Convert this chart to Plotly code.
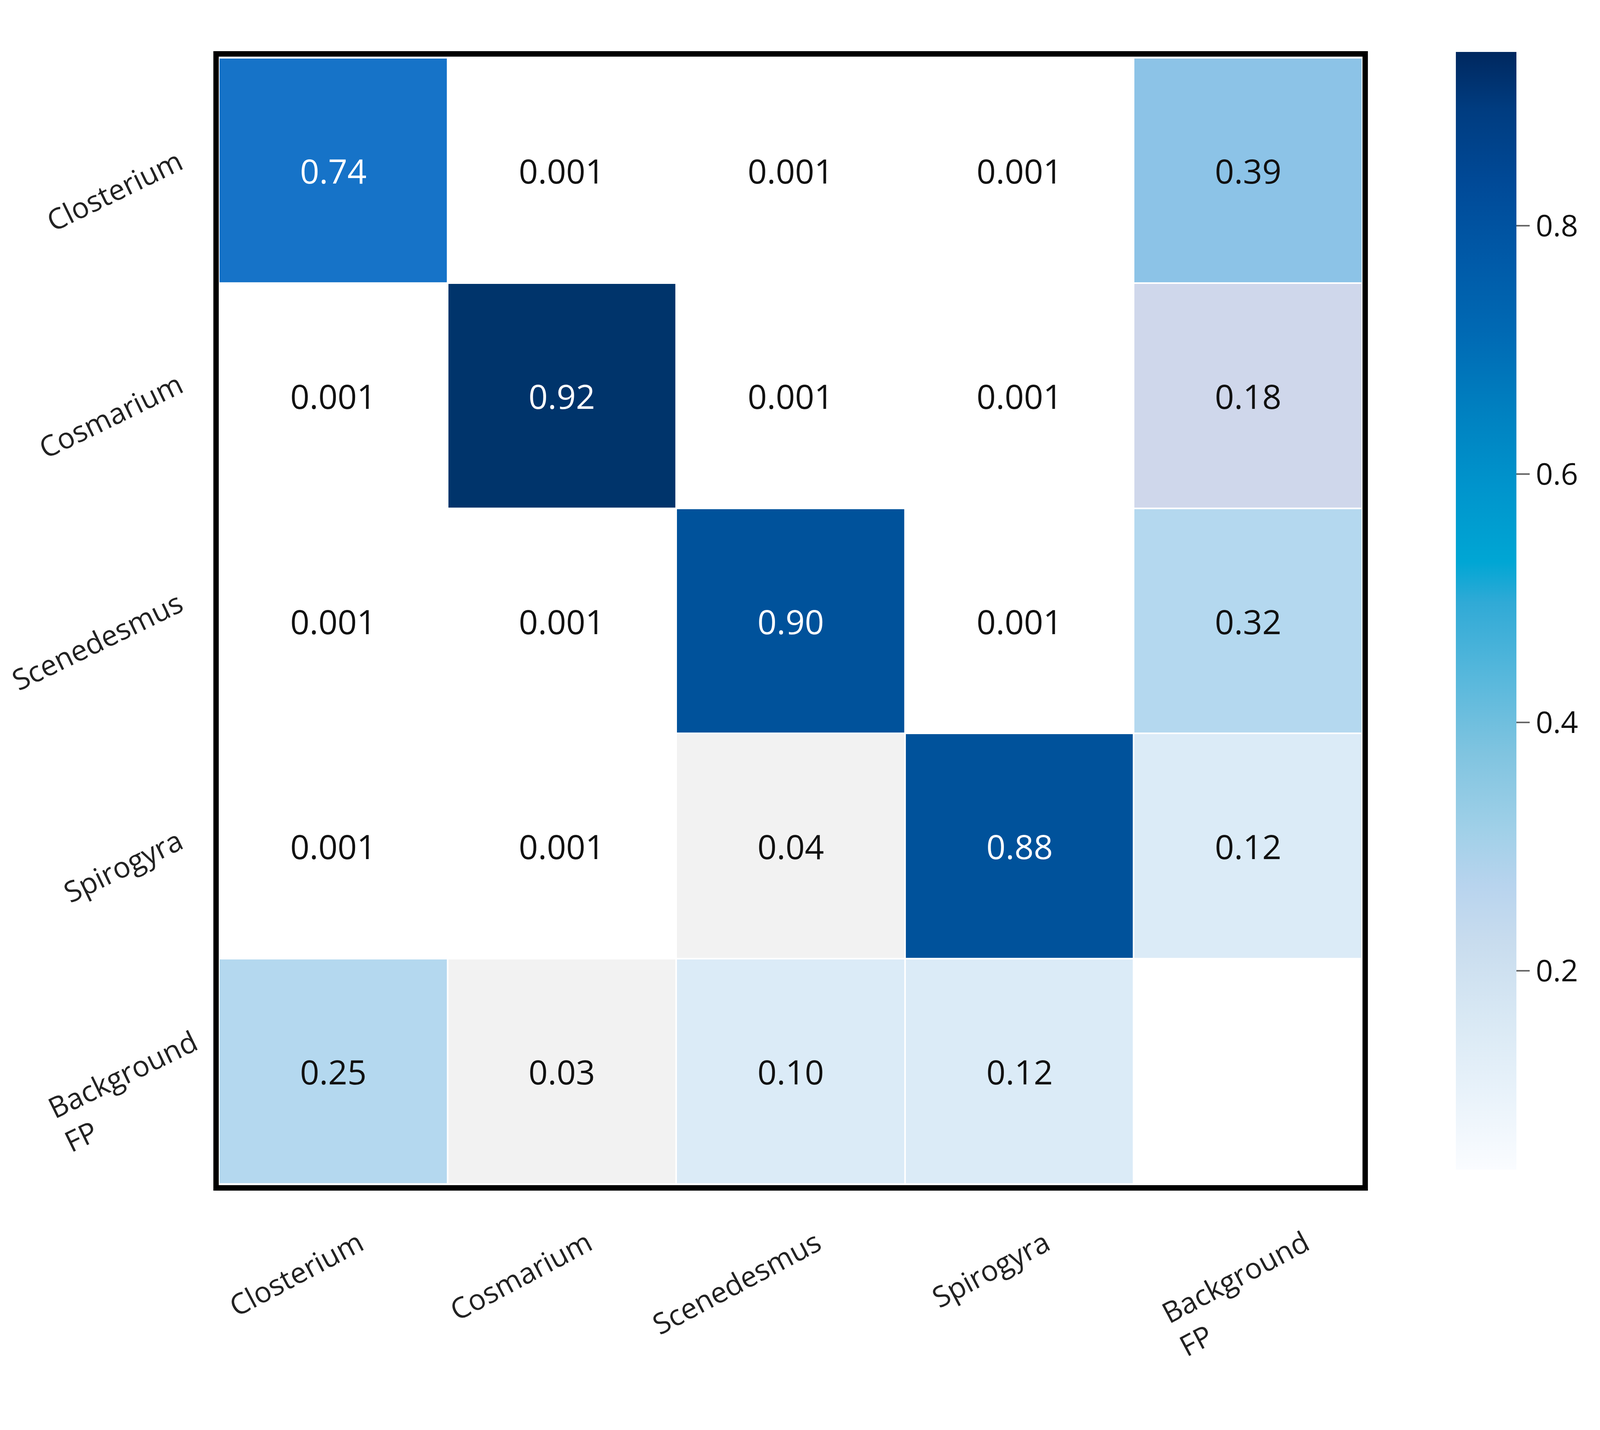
import plotly.graph_objects as go

# ---------------- data ----------------
categories = ["Closterium", "Cosmarium", "Scenedesmus", "Spirogyra", "Background FP"]
tick_labels = ["Closterium", "Cosmarium", "Scenedesmus", "Spirogyra", "Background<br>FP"]

row_closterium = [0.74, 0.001, 0.001, 0.001, 0.39]
row_cosmarium = [0.001, 0.92, 0.001, 0.001, 0.18]
row_scenedesmus = [0.001, 0.001, 0.90, 0.001, 0.32]
row_spirogyra = [0.001, 0.001, 0.04, 0.88, 0.12]
row_background = [0.25, 0.03, 0.10, 0.12, None]

colorbar_ticks = [0.2, 0.4, 0.6, 0.8]
colorbar_ticktext = ["0.2", "0.4", "0.6", "0.8"]
colorbar_min, colorbar_max = 0.04, 0.94

z = [row_closterium, row_cosmarium, row_scenedesmus, row_spirogyra, row_background]

# ---------------- geometry (designed for a 5939x3662 page) ----------------
W_REF, H_REF = 5939, 3662
ML, MR, MT, MB = 812, 881, 148, 630
PW, PH = W_REF - ML - MR, H_REF - MT - MB
FONT = "Open Sans"
LABEL_SIZE = 107

# colour map used for the cells
ZMIN, ZMAX = 0.0, 0.94
cell_scale = [
    [0.000, "#FFFFFF"],
    [0.012, "#FFFFFF"],
    [0.028, "#F2F2F2"],
    [0.048, "#F2F2F2"],
    [0.100, "#DBEBF7"],
    [0.135, "#DBEBF7"],
    [0.191, "#CFD7EB"],
    [0.255, "#B4D8EF"],
    [0.345, "#B4D8EF"],
    [0.415, "#8CC3E7"],
    [0.565, "#00A8D4"],
    [0.680, "#0090C8"],
    [0.787, "#1673C8"],
    [0.930, "#00529B"],
    [0.960, "#00529B"],
    [0.979, "#00346A"],
    [1.000, "#002A60"],
]

# gradient shown in the colour bar
bar_scale = [
    [0.000, "#FAFCFF"],
    [0.070, "#E8F2FA"],
    [0.137, "#D8E8F4"],
    [0.204, "#C8DCEE"],
    [0.254, "#B8D4EE"],
    [0.304, "#A0D0E8"],
    [0.372, "#80C4E0"],
    [0.439, "#58B8DC"],
    [0.507, "#30AAD6"],
    [0.544, "#00A6D4"],
    [0.612, "#0094CC"],
    [0.680, "#0080C0"],
    [0.747, "#006AB4"],
    [0.813, "#005AA8"],
    [0.881, "#004A98"],
    [0.949, "#003C80"],
    [1.000, "#00285F"],
]

def fmt(v):
    return f"{v:.3f}" if v < 0.01 else f"{v:.2f}"

fig = go.Figure()
fig.add_trace(go.Heatmap(
    z=z, x=categories, y=categories,
    zmin=ZMIN, zmax=ZMAX, colorscale=cell_scale, showscale=False,
    xgap=6, ygap=6, hoverongaps=False,
))
fig.add_trace(go.Scatter(
    x=[categories[-1]], y=[categories[-1]], mode="markers",
    hoverinfo="skip", showlegend=False,
    marker=dict(
        size=1, opacity=0, color=[colorbar_min],
        colorscale=bar_scale, cmin=colorbar_min, cmax=colorbar_max, showscale=True,
        colorbar=dict(
            x=(5405 - ML) / PW, xanchor="left", xpad=0, ypad=0,
            y=(MT + PH - (133 + 2995) / 2) / PH, yanchor="middle",
            len=(2995 - 133) / PH, lenmode="fraction",
            thickness=225, thicknessmode="pixels",
            outlinewidth=0,
            tickvals=colorbar_ticks, ticktext=colorbar_ticktext,
            ticks="outside", ticklen=50, tickwidth=6, tickcolor="#666666",
            tickfont=dict(family=FONT, size=112, color="#111111"),
        ),
    ),
))

annotations = []
for i, row in enumerate(z):
    for j, v in enumerate(row):
        if v is None:
            continue
        annotations.append(dict(
            x=categories[j], y=categories[i], xref="x", yref="y",
            text=fmt(v), showarrow=False,
            font=dict(family=FONT, size=125, color="#FFFFFF" if v > 0.6 else "#111111"),
        ))

for i, lab in enumerate(tick_labels):
    two_line = "<br>" in lab
    annotations.append(dict(
        x=(705 - ML) / PW, xref="paper", xanchor="right", xshift=115 if two_line else 0,
        y=categories[i], yref="y", yanchor="middle", yshift=-50,
        text=lab, textangle=-26, align="left", showarrow=False,
        font=dict(family=FONT, size=LABEL_SIZE, color="#222222"),
    ))

for j, lab in enumerate(tick_labels):
    two_line = "<br>" in lab
    annotations.append(dict(
        x=categories[j], xref="x", xanchor="right", xshift=140 + (180 if two_line else 0),
        y=-(3125 - (MT + PH)) / PH, yref="paper", yanchor="top",
        text=lab, textangle=-28, align="left", showarrow=False,
        font=dict(family=FONT, size=LABEL_SIZE, color="#222222"),
    ))

fig.update_layout(
    width=W_REF, height=H_REF,
    margin=dict(l=ML, r=MR, t=MT, b=MB, pad=0),
    paper_bgcolor="white", plot_bgcolor="white",
    font=dict(family=FONT),
    xaxis=dict(showticklabels=False, showgrid=False, zeroline=False, ticks="",
               showline=False, range=[-0.5, 4.5]),
    yaxis=dict(showticklabels=False, showgrid=False, zeroline=False, ticks="",
               showline=False, range=[4.5, -0.5]),
    annotations=annotations,
    shapes=[dict(
        type="rect", xref="paper", yref="paper", layer="above",
        x0=-10 / PW, x1=1 + 10 / PW, y0=-10 / PH, y1=1 + 10 / PH,
        line=dict(color="black", width=20),
    )],
)

# Fit the page to the actual browser viewport, scaling pixel-sized items.
fit_js = """
(function(){
  document.documentElement.style.margin='0';
  document.body.style.margin='0';
  document.body.style.overflow='hidden';
  var gd = document.getElementById('{plot_id}');
  var W = window.innerWidth, H = window.innerHeight;
  var sx = W/%d, sy = H/%d, s = Math.min(sx, sy);
  var L = gd.layout, upd = {width: W, height: H,
    'margin.l': L.margin.l*sx, 'margin.r': L.margin.r*sx,
    'margin.t': L.margin.t*sy, 'margin.b': L.margin.b*sy,
    'shapes[0].line.width': L.shapes[0].line.width*s};
  L.annotations.forEach(function(a, i){
    upd['annotations['+i+'].font.size'] = a.font.size*s;
    if (a.xshift) upd['annotations['+i+'].xshift'] = a.xshift*sx;
    if (a.yshift) upd['annotations['+i+'].yshift'] = a.yshift*sy;
  });
  Plotly.restyle(gd, {'xgap': [gd.data[0].xgap*s], 'ygap': [gd.data[0].ygap*s]}, [0]);
  var cb = gd.data[1].marker.colorbar;
  Plotly.restyle(gd, {'marker.colorbar.thickness': [cb.thickness*sx],
    'marker.colorbar.ticklen': [cb.ticklen*sx], 'marker.colorbar.tickwidth': [cb.tickwidth*s],
    'marker.colorbar.tickfont.size': [cb.tickfont.size*s]}, [1]);
  Plotly.relayout(gd, upd);
})();
""" % (W_REF, H_REF)

fig.write_html("out.html", post_script=fit_js, config={"displayModeBar": False})
